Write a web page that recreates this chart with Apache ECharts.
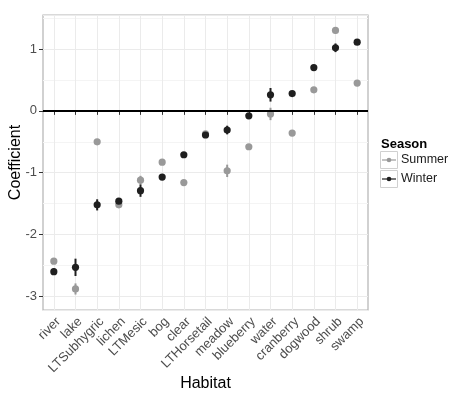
<!DOCTYPE html>
<html>
<head>
<meta charset="utf-8">
<script src="https://cdn.jsdelivr.net/npm/echarts@6/dist/echarts.min.js"></script>
<style>
  html, body { margin: 0; padding: 0; background: #fff; }
  #chart { width: 474px; height: 397px; }
</style>
</head>
<body>
<div id="chart"></div>
<script>
var habitats = ['river', 'lake', 'LTSubhygric', 'lichen', 'LTMesic', 'bog', 'clear', 'LTHorsetail',
                'meadow', 'blueberry', 'water', 'cranberry', 'dogwood', 'shrub', 'swamp'];
var summerMean = [-2.43, -2.88, -0.50, -1.52, -1.12, -0.83, -1.16, -0.37, -0.97, -0.58, -0.05, -0.36, 0.34, 1.30, 0.45];
var summerErr  = [0.04, 0.09, 0.04, 0.04, 0.07, 0.03, 0.03, 0.04, 0.10, 0.03, 0.10, 0.03, 0.03, 0.05, 0.03];
var winterMean = [-2.60, -2.53, -1.52, -1.46, -1.29, -1.07, -0.71, -0.39, -0.31, -0.08, 0.26, 0.28, 0.70, 1.02, 1.11];
var winterErr  = [0.05, 0.14, 0.09, 0.04, 0.10, 0.03, 0.03, 0.03, 0.07, 0.03, 0.11, 0.03, 0.03, 0.07, 0.03];
var seasons = ['Summer', 'Winter'];

var summerColor = '#999999';
var winterColor = '#1f1f1f';
var font = '"Liberation Sans", Arial, sans-serif';

function toRows(mean, err) {
    return mean.map(function (v, i) { return [i, v, v - err[i], v + err[i]]; });
}

function pointRange(color) {
    return function (params, api) {
        var c = api.coord([api.value(0), api.value(1)]);
        var lo = api.coord([api.value(0), api.value(2)]);
        var hi = api.coord([api.value(0), api.value(3)]);
        return {
            type: 'group',
            children: [
                { type: 'line', shape: { x1: c[0], y1: lo[1], x2: c[0], y2: hi[1] },
                  style: { stroke: color, lineWidth: 2 } },
                { type: 'circle', shape: { cx: c[0], cy: c[1], r: 3.6 },
                  style: { fill: color } }
            ]
        };
    };
}

// legend keys (ggplot style: boxed line + dot)
function legendKey(y, label, color) {
    return [
        { type: 'rect', shape: { x: 380.5, y: y, width: 17, height: 17 },
          style: { fill: '#fff', stroke: '#d0d0d0', lineWidth: 1 } },
        { type: 'line', shape: { x1: 382, y1: y + 8.5, x2: 396, y2: y + 8.5 },
          style: { stroke: color, lineWidth: 1.2 } },
        { type: 'circle', shape: { cx: 389, cy: y + 8.5, r: 2.3 }, style: { fill: color } },
        { type: 'text', x: 401, y: y + 8.5,
          style: { text: label, fontSize: 12.5, fill: '#1a1a1a', fontFamily: font, verticalAlign: 'middle' } }
    ];
}

var chart = echarts.init(document.getElementById('chart'));
var option = {
    animation: false,
    textStyle: { fontFamily: font },
    grid: {
        left: 43, right: 106, top: 15, bottom: 87,
        outerBoundsMode: 'none',
        containLabel: false,
        show: true, borderColor: '#b3b3b3', borderWidth: 1.2, backgroundColor: '#fff'
    },
    graphic: [
        { type: 'text', x: 381, y: 144,
          style: { text: 'Season', fontSize: 13, fontWeight: 'bold', fill: '#000', fontFamily: font,
                   verticalAlign: 'middle' } }
    ].concat(legendKey(151.5, seasons[0], summerColor), legendKey(170.5, seasons[1], winterColor)),
    xAxis: {
        type: 'category',
        data: habitats,
        boundaryGap: true,
        name: 'Habitat',
        nameLocation: 'middle',
        nameGap: 66,
        nameMoveOverlap: false,
        nameTextStyle: { fontSize: 16, color: '#000' },
        axisLine: { show: false },
        axisTick: { show: true, alignWithLabel: true, length: 4, lineStyle: { color: '#333' } },
        axisLabel: { rotate: 45, fontSize: 13, color: '#4d4d4d', margin: 5, interval: 0,
                     verticalAlign: 'top' },
        splitLine: { show: true, alignWithLabel: true, lineStyle: { color: '#ebebeb', width: 1 } }
    },
    yAxis: {
        type: 'value',
        min: -3.22, max: 1.55,
        splitNumber: 5,
        name: 'Coefficient',
        nameLocation: 'middle',
        nameGap: 19,
        nameMoveOverlap: false,
        nameTextStyle: { fontSize: 16, color: '#000' },
        axisLine: { show: false },
        axisTick: { show: true, length: 4, lineStyle: { color: '#333' } },
        axisLabel: { fontSize: 13, color: '#4d4d4d', margin: 6, showMinLabel: false, showMaxLabel: false },
        splitLine: { show: true, lineStyle: { color: '#ebebeb', width: 1 } },
        minorTick: { show: false, splitNumber: 2 },
        minorSplitLine: { show: true, lineStyle: { color: '#f4f4f4', width: 1 } }
    },
    series: [
        {
            name: seasons[0],
            type: 'custom',
            renderItem: pointRange(summerColor),
            encode: { x: 0, y: 1 },
            data: toRows(summerMean, summerErr),
            z: 3
        },
        {
            name: seasons[1],
            type: 'custom',
            renderItem: pointRange(winterColor),
            encode: { x: 0, y: 1 },
            data: toRows(winterMean, winterErr),
            z: 4,
            markLine: {
                silent: true,
                symbol: 'none',
                label: { show: false },
                lineStyle: { color: '#000', width: 2, type: 'solid' },
                data: [{ yAxis: 0 }]
            }
        }
    ]
};
chart.setOption(option);
</script>
</body>
</html>
